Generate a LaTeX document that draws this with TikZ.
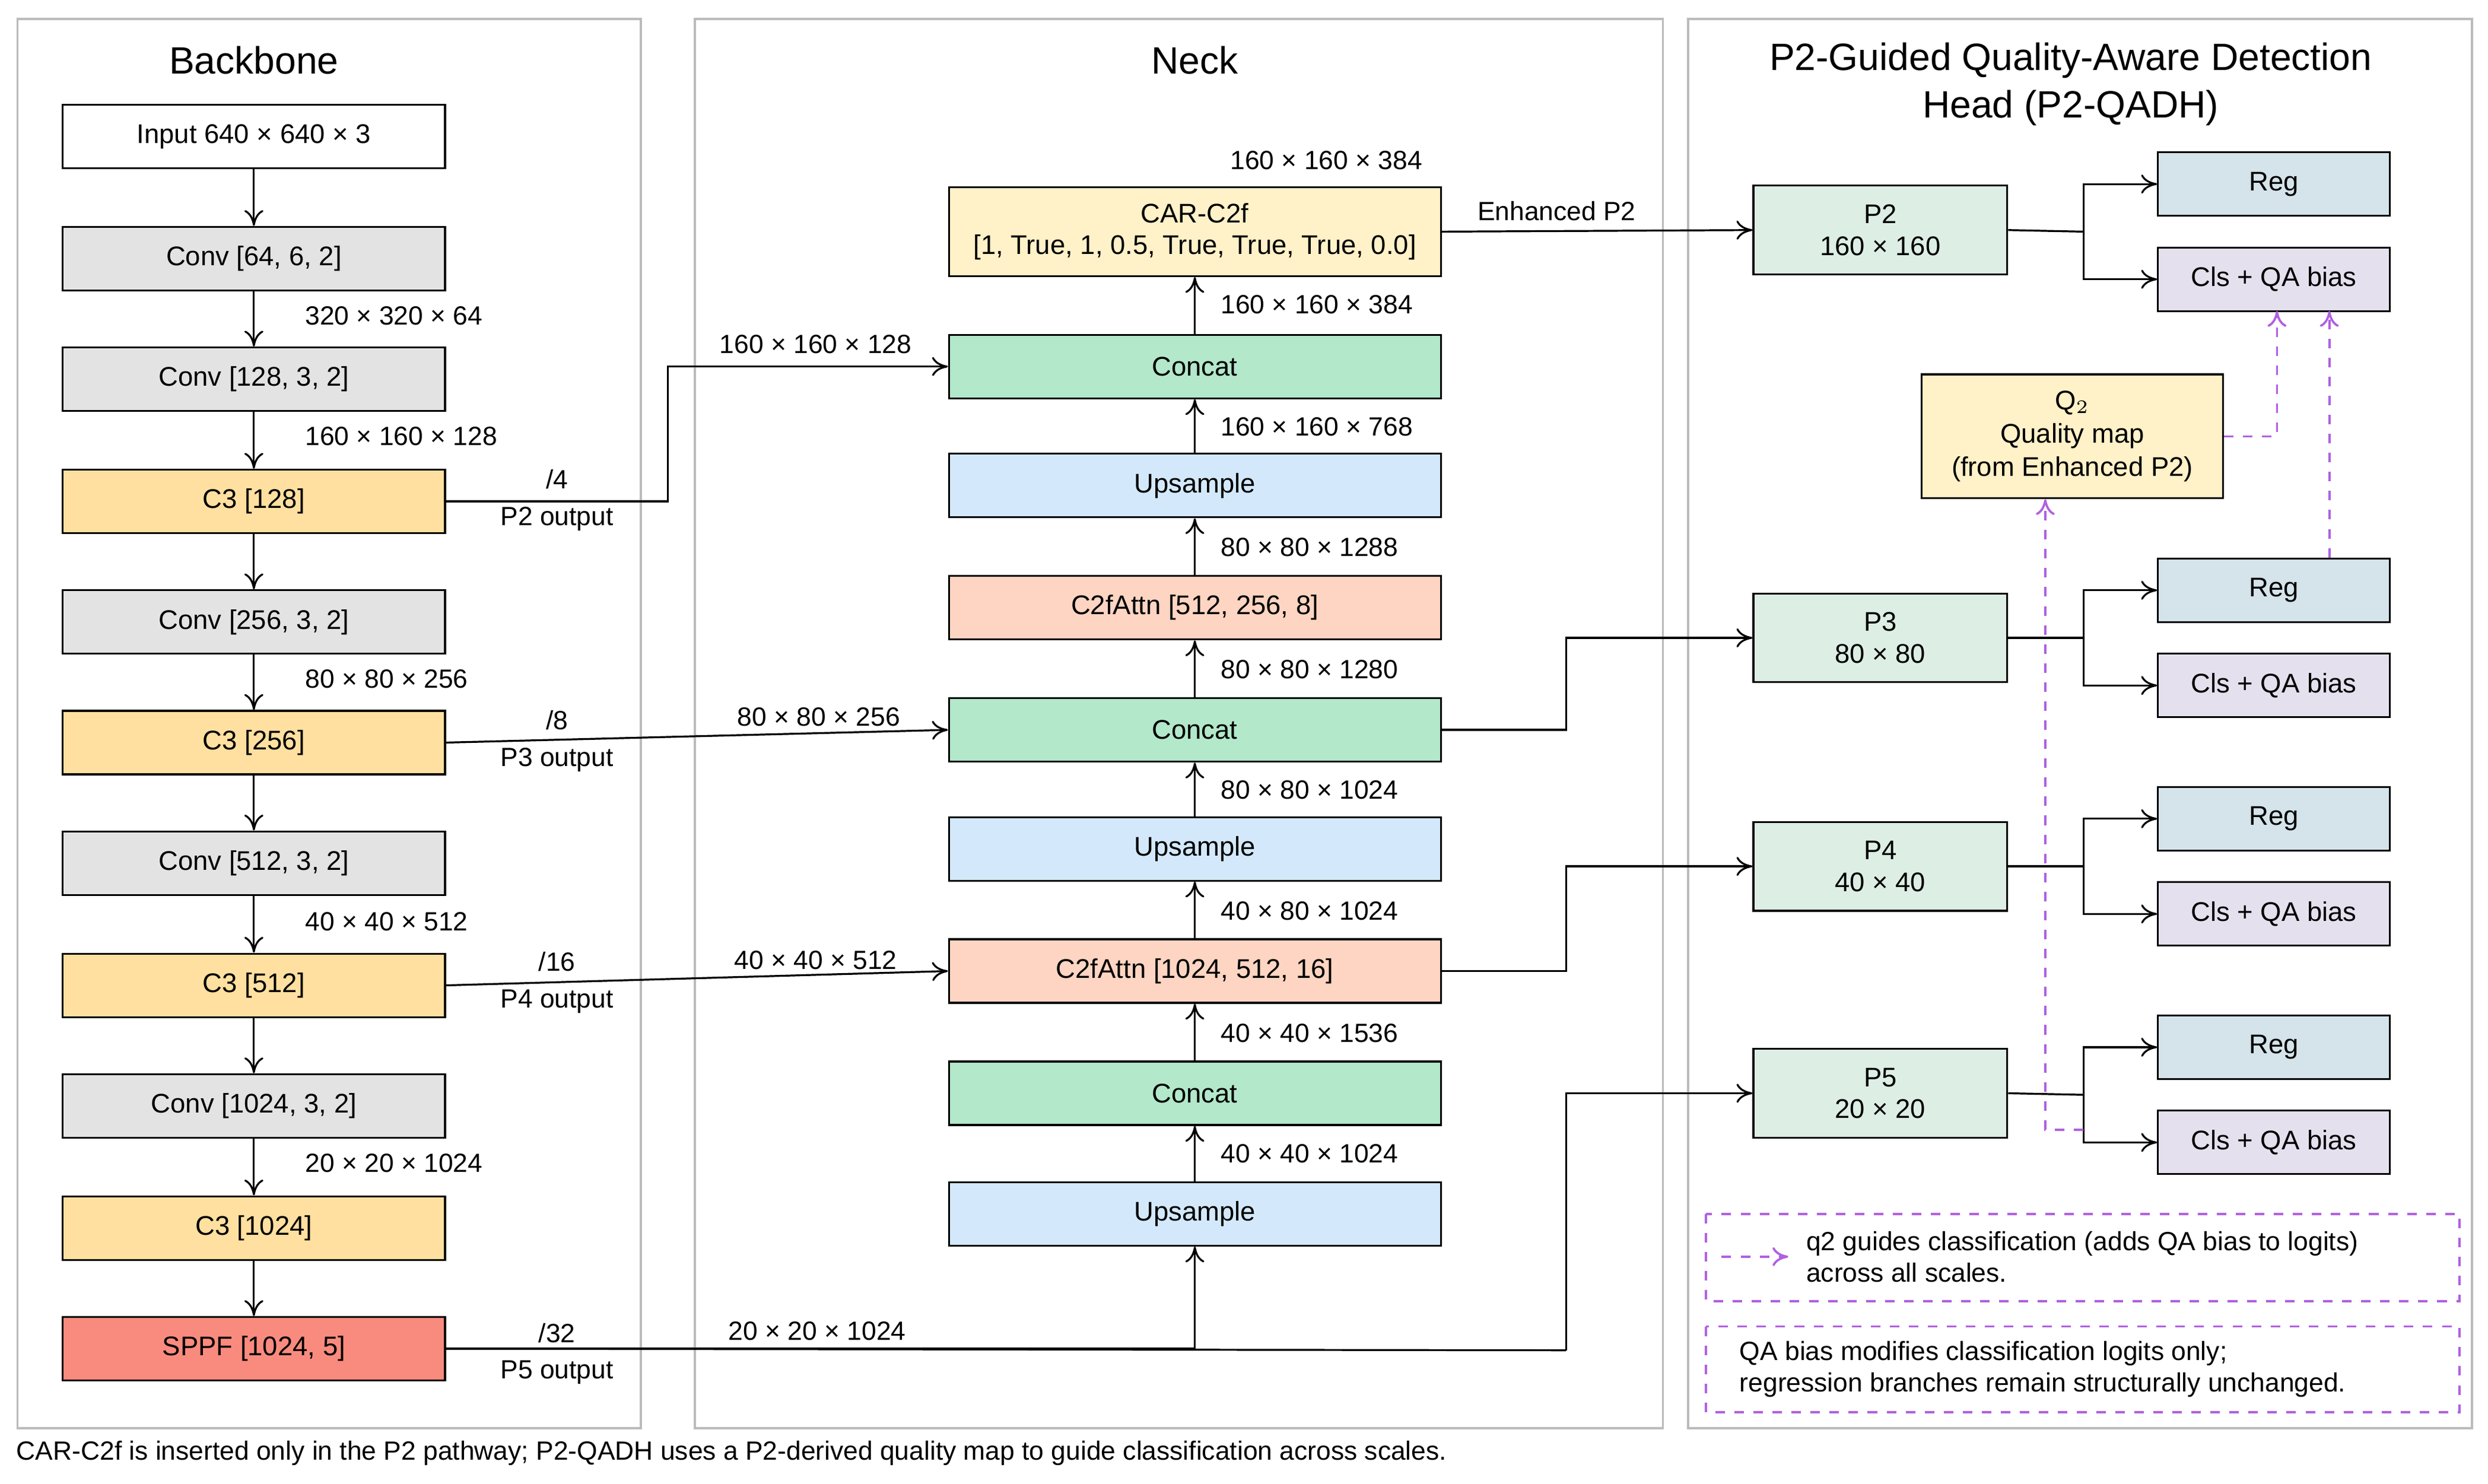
\documentclass[tikz,border=0pt]{standalone}
\usepackage{fontspec}
\setmainfont{Liberation Sans}
\usetikzlibrary{arrows.meta}
\definecolor{cgray}{HTML}{E3E3E3}
\definecolor{corange}{HTML}{FFE0A0}
\definecolor{cred}{HTML}{F98B7E}
\definecolor{cgreen}{HTML}{B3E8CA}
\definecolor{cblue}{HTML}{D3E9FB}
\definecolor{cpeach}{HTML}{FDD5C2}
\definecolor{cyel}{HTML}{FFF1C8}
\definecolor{cpbox}{HTML}{DDEEE5}
\definecolor{creg}{HTML}{D5E3EA}
\definecolor{ccls}{HTML}{E5E0EE}
\definecolor{cpur}{HTML}{B060E0}
\definecolor{cpanel}{HTML}{BBBBBB}
\begin{document}
\begin{tikzpicture}[x=0.5pt,y=-0.5pt,>={To[length=5pt,width=6pt]},
 bb/.style={draw,line width=0.6pt,minimum width=120.5pt,minimum height=20pt,inner sep=1pt,font=\fontsize{8.5}{10}\selectfont},
 nb/.style={bb,minimum width=155pt},
 pb/.style={bb,minimum width=80pt,minimum height=28pt,align=center,fill=cpbox},
 hb/.style={bb,minimum width=73pt},
 lab/.style={font=\fontsize{8.3}{10}\selectfont,inner sep=1pt},
 panel/.style={draw=cpanel,line width=0.7pt},
 conn/.style={line width=0.6pt},
 pd/.style={draw=cpur,dashed,line width=0.7pt}]
\useasboundingbox (0,0) rectangle (1568,935);
\fill[white] (0,0) rectangle (1568,935);
\draw[panel] (11,12) rectangle (404,900);
\draw[panel] (438,12) rectangle (1048,900);
\draw[panel] (1064,12) rectangle (1558,900);
\node[font=\fontsize{12}{14}\selectfont] (t1) at (160,38) {Backbone};
\node[font=\fontsize{12}{14}\selectfont] (t2) at (753,38) {Neck};
\node[font=\fontsize{12}{15}\selectfont,align=center] (t3) at (1305,53) {P2-Guided Quality-Aware Detection\\Head (P2-QADH)};
% backbone
\node[bb,fill=white] (b0) at (160,86) {Input 640 × 640 × 3};
\node[bb,fill=cgray] (b1) at (160,163) {Conv [64, 6, 2]};
\node[bb,fill=cgray] (b2) at (160,239) {Conv [128, 3, 2]};
\node[bb,fill=corange] (b3) at (160,316) {C3 [128]};
\node[bb,fill=cgray] (b4) at (160,392) {Conv [256, 3, 2]};
\node[bb,fill=corange] (b5) at (160,468) {C3 [256]};
\node[bb,fill=cgray] (b6) at (160,544) {Conv [512, 3, 2]};
\node[bb,fill=corange] (b7) at (160,621) {C3 [512]};
\node[bb,fill=cgray] (b8) at (160,697) {Conv [1024, 3, 2]};
\node[bb,fill=corange] (b9) at (160,774) {C3 [1024]};
\node[bb,fill=cred] (b10) at (160,850) {SPPF [1024, 5]};
\foreach \a/\b in {b0/b1,b1/b2,b2/b3,b3/b4,b4/b5,b5/b6,b6/b7,b7/b8,b8/b9,b9/b10}
  \draw[conn,->] (\a.south) -- (\b.north);
\node[lab,anchor=west] (l1) at (190,199) {320 × 320 × 64};
\node[lab,anchor=west] (l2) at (190,275) {160 × 160 × 128};
\node[lab,anchor=west] (l3) at (190,428) {80 × 80 × 256};
\node[lab,anchor=west] (l4) at (190,581) {40 × 40 × 512};
\node[lab,anchor=west] (l5) at (190,733) {20 × 20 × 1024};
\foreach \y/\s/\p [count=\i] in {302/4/P2,454/8/P3,606/16/P4,840/32/P5}{
  \node[lab] (os\i) at (351,\y) {/\s};
  \node[lab] (op\i) at (351,\y+25) {\p\ output};}
% neck
\node[nb,fill=cyel,minimum height=28pt,align=center] (n1) at (753,146) {CAR-C2f\\\relax [1, True, 1, 0.5, True, True, True, 0.0]};
\node[nb,fill=cgreen] (n2) at (753,231) {Concat};
\node[nb,fill=cblue] (n3) at (753,306) {Upsample};
\node[nb,fill=cpeach] (n4) at (753,383) {C2fAttn [512, 256, 8]};
\node[nb,fill=cgreen] (n5) at (753,460) {Concat};
\node[nb,fill=cblue] (n6) at (753,535) {Upsample};
\node[nb,fill=cpeach] (n7) at (753,612) {C2fAttn [1024, 512, 16]};
\node[nb,fill=cgreen] (n8) at (753,689) {Concat};
\node[nb,fill=cblue] (n9) at (753,765) {Upsample};
\foreach \a/\b in {n9/n8,n8/n7,n7/n6,n6/n5,n5/n4,n4/n3,n3/n2,n2/n1}
  \draw[conn,->] (\a.north) -- (\b.south);
\node[lab,anchor=west] (m0) at (773,101) {160 × 160 × 384};
\node[lab,anchor=west] (m1) at (767,192) {160 × 160 × 384};
\node[lab,anchor=west] (m2) at (767,269) {160 × 160 × 768};
\node[lab,anchor=west] (m3) at (767,345) {80 × 80 × 1288};
\node[lab,anchor=west] (m4) at (767,422) {80 × 80 × 1280};
\node[lab,anchor=west] (m5) at (767,498) {80 × 80 × 1024};
\node[lab,anchor=west] (m6) at (767,574) {40 × 80 × 1024};
\node[lab,anchor=west] (m7) at (767,651) {40 × 40 × 1536};
\node[lab,anchor=west] (m8) at (767,727) {40 × 40 × 1024};
% backbone -> neck
\draw[conn,->] (b3.east) -- (421,316) |- (n2.west);
\node[lab] (c1) at (514,217) {160 × 160 × 128};
\draw[conn,->] (b5.east) -- (n5.west);
\node[lab] (c2) at (516,452) {80 × 80 × 256};
\draw[conn,->] (b7.east) -- (n7.west);
\node[lab] (c3) at (514,605) {40 × 40 × 512};
\draw[conn,->] (b10.east) -| (n9.south);
\node[lab] (c4) at (515,839) {20 × 20 × 1024};
% head
\node[pb] (p2) at (1185,145) {P2\\160 × 160};
\node[pb] (p3) at (1185,402) {P3\\80 × 80};
\node[pb] (p4) at (1185,546) {P4\\40 × 40};
\node[pb] (p5) at (1185,689) {P5\\20 × 20};
\coordinate (j5) at (987,851);
\draw[conn] (b10.east) -- (j5);
\draw[conn,->] (j5) |- (p5.west);
\draw[conn,->] (n5.east) -- (987,460) |- (p3.west);
\draw[conn,->] (n7.east) -- (987,612) |- (p4.west);
\draw[conn,->] (n1.east) -- (p2.west);
\node[lab] (ep) at (981,133) {Enhanced P2};
\foreach \p/\y [count=\i] in {p2/116,p3/372,p4/516,p5/660}{
  \node[hb,fill=creg] (r\i) at (1433,\y) {Reg};
  \node[hb,fill=ccls] (k\i) at (1433,\y+60) {Cls + QA bias};
  \draw[conn] (\p.east) -- (1313,\y+30);
  \draw[conn,->] (1313,\y+30) |- (r\i.west);
  \draw[conn,->] (1313,\y+30) |- (k\i.west);}
\node[bb,fill=cyel,minimum width=95pt,minimum height=39pt,align=center,font=\fontsize{8.5}{10.5}\selectfont] (q2) at (1306,275) {Q$_2$\\Quality map\\(from Enhanced P2)};
\draw[pd,->] (q2.east) -- (1435,275) -- (1435,196);
\draw[pd,->] (r2.north -| 1468,0) -- (1468,196);
\draw[pd,->] (1313,712) -- (1289,712) -- (q2.south -| 1289,0);
% legend
\draw[pd] (1075,765) rectangle (1550,820);
\draw[pd,->] (1085,792) -- (1127,792);
\node[lab,anchor=west,align=left] (lg1) at (1136,792) {q2 guides classification (adds QA bias to logits)\\across all scales.};
\draw[pd] (1075,836) rectangle (1550,890);
\node[lab,anchor=west,align=left] (lg2) at (1094,863) {QA bias modifies classification logits only;\\regression branches remain structurally unchanged.};
\node[lab,anchor=west] (cap) at (8,916) {CAR-C2f is inserted only in the P2 pathway; P2-QADH uses a P2-derived quality map to guide classification across scales.};
\end{tikzpicture}
\end{document}
